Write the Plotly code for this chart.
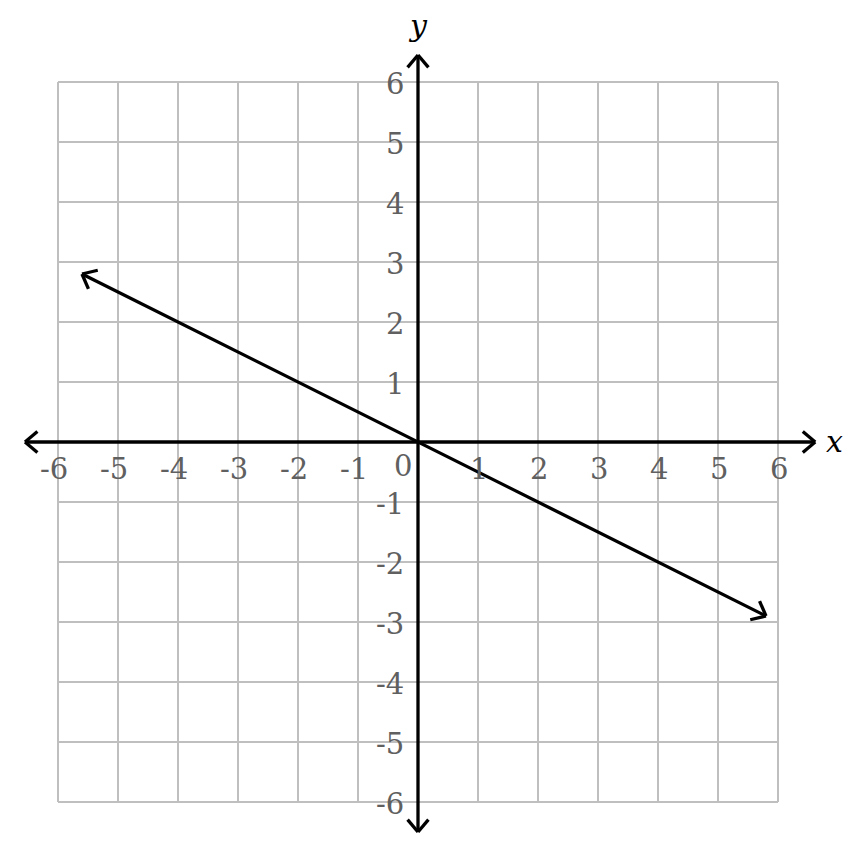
import math
import plotly.graph_objects as go

# grid / tick values
grid_vals = [-6, -5, -4, -3, -2, -1, 0, 1, 2, 3, 4, 5, 6]
x_tick_vals = [-6, -5, -4, -3, -2, -1, 1, 2, 3, 4, 5, 6]
x_tick_text = ["-6", "-5", "-4", "-3", "-2", "-1", "1", "2", "3", "4", "5", "6"]
y_tick_vals = [6, 5, 4, 3, 2, 1, -1, -2, -3, -4, -5, -6]
y_tick_text = ["6", "5", "4", "3", "2", "1", "-1", "-2", "-3", "-4", "-5", "-6"]

# axis extents (arrow tips)
x_axis_ends = [-6.55, 6.62]
y_axis_ends = [-6.5, 6.45]

# the plotted line y = -x/2
line_x = [-5.6, 5.8]
line_y = [2.8, -2.9]

FONT = "DejaVu Serif"
GREY = "#606060"
INK = "black"


def chevron(tip, prev, length=0.27, angle=40):
    # open arrow head at tip, pointing away from prev
    dx, dy = tip[0] - prev[0], tip[1] - prev[1]
    a = math.atan2(dy, dx)
    xs, ys = [], []
    for s in (1, -1):
        b = a + math.pi - s * math.radians(angle)
        xs += [tip[0] + length * math.cos(b), tip[0], None]
        ys += [tip[1] + length * math.sin(b), tip[1], None]
    return xs, ys


fig = go.Figure()

# grid
for v in grid_vals:
    fig.add_shape(type="line", x0=v, x1=v, y0=grid_vals[0], y1=grid_vals[-1],
                  line=dict(color="#bfbfbf", width=2), layer="below")
    fig.add_shape(type="line", y0=v, y1=v, x0=grid_vals[0], x1=grid_vals[-1],
                  line=dict(color="#bfbfbf", width=2), layer="below")

# axes with arrows
ax_x = list(x_axis_ends) + [None]
ax_y = [0, 0, None]
for tip, prev in [((x_axis_ends[0], 0), (0, 0)), ((x_axis_ends[1], 0), (0, 0))]:
    cx, cy = chevron(tip, prev)
    ax_x += cx
    ax_y += cy
ax_x += [0, 0, None]
ax_y += list(y_axis_ends) + [None]
for tip, prev in [((0, y_axis_ends[0]), (0, 0)), ((0, y_axis_ends[1]), (0, 0))]:
    cx, cy = chevron(tip, prev)
    ax_x += cx
    ax_y += cy
fig.add_trace(go.Scatter(x=ax_x, y=ax_y, mode="lines",
                         line=dict(color=INK, width=3.3), hoverinfo="skip"))

# the line with arrows at both ends
lx = list(line_x) + [None]
ly = list(line_y) + [None]
for i, j in [(0, 1), (1, 0)]:
    cx, cy = chevron((line_x[i], line_y[i]), (line_x[j], line_y[j]))
    lx += cx
    ly += cy
fig.add_trace(go.Scatter(x=lx, y=ly, mode="lines",
                         line=dict(color=INK, width=3.3), hoverinfo="skip"))

# tick labels
for v, t in zip(x_tick_vals, x_tick_text):
    fig.add_annotation(x=v, y=0, text=t, showarrow=False, xanchor="right",
                       yanchor="middle", xshift=12, yshift=-27,
                       font=dict(family=FONT, size=29, color=GREY))
for v, t in zip(y_tick_vals, y_tick_text):
    fig.add_annotation(x=0, y=v, text=t, showarrow=False, xanchor="right",
                       yanchor="middle", xshift=-12, yshift=-2,
                       font=dict(family=FONT, size=29, color=GREY))
fig.add_annotation(x=0, y=0, text="0", showarrow=False, xanchor="right",
                   yanchor="middle", xshift=-4, yshift=-24,
                   font=dict(family=FONT, size=29, color=GREY))

# axis names
fig.add_annotation(x=x_axis_ends[1], y=0, text="<i>x</i>", showarrow=False,
                   xanchor="left", yanchor="middle", xshift=9, yshift=1,
                   font=dict(family=FONT, size=30, color=INK))
fig.add_annotation(x=0, y=y_axis_ends[1], text="<i>y</i>", showarrow=False,
                   xanchor="center", yanchor="bottom", yshift=10,
                   font=dict(family=FONT, size=30, color=INK))

# page adds an 8px body margin, so the figure is drawn 8px in and 8px down
fig.update_layout(
    width=847, height=841,
    margin=dict(l=0, r=0, t=0, b=0),
    plot_bgcolor="white", paper_bgcolor="white",
    showlegend=False,
    xaxis=dict(range=[-410 / 60, 437 / 60], visible=False, fixedrange=True),
    yaxis=dict(range=[-407 / 60, 434 / 60], visible=False, fixedrange=True),
)

fig.write_html("out.html")
